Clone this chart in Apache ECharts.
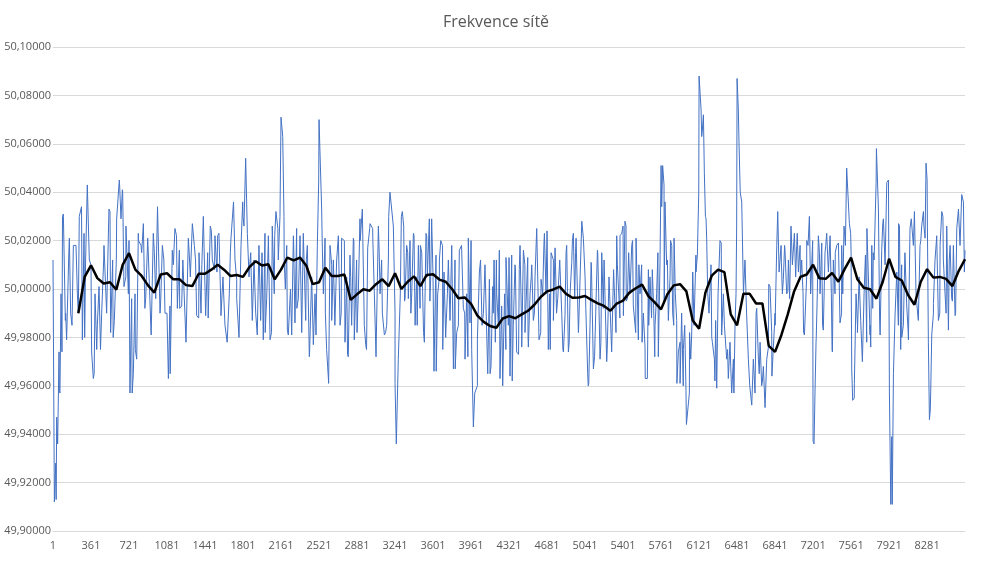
<!DOCTYPE html>
<html>
<head>
<meta charset="utf-8">
<title>Frekvence sítě</title>
<script src="https://cdn.jsdelivr.net/npm/echarts@6/dist/echarts.min.js"></script>
<style>
  html, body { margin: 0; padding: 0; background: #fff; }
  #chart { width: 992px; height: 563px; }
</style>
</head>
<body>
<div id="chart"></div>
<script>
// pocet mereni (kategorie 1..8640), popisky osy X po 360
const N = 8640;
const LABEL_EVERY = 360;

// frekvence, vzorek kazdych 30 mereni
const BLUE_STEP = 30;
const freqValues = [
  50.012, 49.913, 49.958, 50.030, 49.990, 50.015, 49.985, 50.018, 49.990, 50.034, 49.980, 50.043,
  50.010, 49.965, 49.985, 49.975, 50.012, 49.990, 50.032, 49.980, 50.012, 50.044, 50.040, 50.005,
  50.020, 49.957, 49.975, 50.020, 50.015, 49.992, 50.018, 49.981, 50.015, 50.034, 49.995, 50.012,
  49.990, 49.965, 50.010, 50.022, 49.992, 50.012, 49.978, 50.015, 50.027, 50.012, 49.988, 50.010,
  50.030, 49.988, 50.024, 50.008, 50.022, 49.993, 50.005, 49.978, 50.015, 50.036, 50.004, 49.980,
  50.030, 50.054, 50.008, 49.990, 50.012, 49.981, 50.015, 49.982, 50.020, 49.982, 50.022, 50.025,
  50.071, 50.012, 49.983, 50.000, 50.018, 49.992, 50.022, 49.982, 50.012, 49.973, 49.988, 49.985,
  50.070, 50.020, 49.990, 49.962, 50.010, 49.985, 50.020, 49.990, 50.020, 49.973, 50.005, 50.020,
  49.982, 50.020, 50.033, 49.975, 50.025, 50.020, 49.972, 50.015, 49.990, 49.982, 50.030, 50.040,
  49.990, 49.936, 50.030, 49.995, 50.015, 49.990, 50.022, 49.985, 50.018, 49.982, 50.022, 49.995,
  50.029, 49.966, 50.005, 50.018, 49.980, 50.012, 50.018, 49.967, 49.985, 50.018, 49.990, 49.972,
  50.020, 49.943, 49.960, 50.012, 49.990, 50.010, 49.965, 49.990, 50.012, 50.016, 49.960, 49.975,
  50.013, 49.962, 50.009, 49.973, 49.982, 50.010, 49.980, 50.005, 49.990, 50.025, 49.982, 50.018,
  50.024, 49.975, 50.012, 49.990, 50.012, 49.975, 50.015, 49.978, 50.020, 50.015, 49.985, 50.028,
  50.005, 49.960, 50.010, 49.972, 50.015, 49.978, 50.012, 49.975, 50.005, 50.008, 50.022, 49.988,
  50.026, 49.995, 50.015, 50.020, 49.982, 50.010, 49.978, 49.963, 50.008, 49.988, 49.972, 50.015,
  50.051, 49.995, 50.012, 50.020, 49.985, 49.961, 49.978, 49.960, 49.944, 49.982, 50.007, 50.014,
  50.088, 50.065, 50.030, 49.993, 49.980, 49.962, 49.998, 50.019, 49.985, 49.975, 49.968, 49.957,
  50.087, 50.040, 49.999, 49.990, 49.960, 49.952, 49.990, 49.965, 49.962, 49.951, 50.002, 49.964,
  49.990, 50.032, 50.011, 50.018, 49.999, 50.025, 50.010, 50.023, 50.004, 49.982, 50.020, 50.030,
  49.937, 49.980, 50.015, 49.985, 50.018, 50.012, 49.975, 50.015, 50.018, 49.990, 50.022, 50.050,
  50.015, 49.955, 49.985, 50.005, 49.970, 50.025, 49.981, 50.015, 50.058, 49.988, 50.027, 50.010,
  50.045, 49.911, 49.990, 50.027, 49.980, 50.015, 49.983, 50.029, 50.032, 49.990, 50.020, 50.026,
  50.045, 49.950, 49.990, 50.021, 49.990, 50.030, 49.990, 50.012, 49.995, 49.990, 50.033, 50.039,
  50.016
];

// dalsi odectene body frekvence mezi vzorky: [poradi mereni (od 0), hodnota]
const freqExtra = [
  [13,49.912],[25,49.928],[35,49.947],[44,49.936],[57,49.974],[66,49.957],[76,49.998],[85,49.974],[98,50.031],[117,49.987],
  [129,49.979],[155,50.021],[167,49.990],[193,50.018],[218,50.018],[231,49.998],[249,50.030],[278,49.979],[294,50.023],[309,50.012],
  [325,50.043],[344,50.012],[366,49.974],[382,49.963],[398,49.998],[414,49.975],[436,50.001],[461,49.990],[483,50.018],[508,49.990],
  [530,50.033],[546,49.982],[565,50.012],[581,49.987],[603,50.029],[628,50.045],[644,50.029],[657,50.041],[672,50.001],[691,50.026],
  [714,49.998],[729,49.957],[745,49.996],[761,49.965],[777,49.998],[793,49.971],[808,50.023],
  [834,50.018],[856,50.027],[878,49.996],[897,50.021],[928,49.983],[950,50.023],[973,49.996],[992,50.034],[1014,49.990],[1036,50.018],
  [1061,49.990],[1093,49.963],[1108,49.993],[1130,50.016],[1155,50.025],[1178,49.992],[1197,50.016],[1219,49.993],[1241,50.012],[1266,49.978],
  [1282,50.021],[1301,50.005],[1320,50.027],[1339,50.018],[1361,49.989],[1383,50.015],[1402,49.990],[1424,50.030],[1446,49.989],[1465,50.015],
  [1490,50.026],[1509,50.012],[1534,50.022],[1553,50.007],[1572,50.023],[1591,49.989],[1610,50.005],[1629,49.985],[1654,49.978],[1670,49.998],
  [1686,50.021],[1711,50.036],
  [1724,50.012],[1740,49.996],[1762,49.980],[1781,50.018],[1797,50.036],[1809,50.026],[1825,50.054],[1841,50.023],[1857,50.005],[1873,50.015],
  [1888,49.987],[1904,50.012],[1920,49.990],[1935,49.981],[1951,50.018],[1967,49.987],[1992,49.979],[2008,50.023],[2024,49.996],[2040,50.022],
  [2056,49.979],[2077,50.026],[2096,49.998],[2112,50.032],[2134,50.012],[2150,50.030],[2166,50.071],[2176,50.063],[2188,50.030],[2201,50.000],
  [2214,50.018],[2229,49.981],[2245,49.996],[2261,49.981],[2277,50.022],[2292,49.986],[2308,50.025],[2324,49.996],[2340,50.022],[2356,49.982],
  [2371,50.023],[2394,49.987],[2409,50.018],[2428,49.972],[2450,50.005],[2466,49.977],[2482,49.998],[2491,49.981],[2504,50.018],[2517,50.045],
  [2529,50.070],[2545,50.033],[2561,49.998],[2577,50.021],[2592,49.975],[2611,49.961],
  [2624,50.018],[2640,49.987],[2656,50.012],[2671,49.985],[2687,50.012],[2703,50.022],[2719,49.985],[2734,50.021],[2750,50.021],[2766,49.978],
  [2782,50.005],[2797,49.972],[2813,50.014],[2829,49.985],[2845,50.021],[2854,49.979],[2876,50.012],[2892,49.998],[2908,50.029],[2930,50.033],
  [2949,49.985],[2962,49.977],[2981,50.017],[3003,50.027],[3028,50.025],[3044,49.998],[3060,49.973],[3082,50.026],[3098,49.998],[3113,50.012],
  [3139,49.981],[3161,49.985],[3177,50.012],[3192,50.040],[3208,50.040],[3224,50.026],[3240,49.961],[3252,49.936],[3271,49.971],[3290,49.998],
  [3309,50.032],[3322,50.026],[3335,49.996],[3350,50.018],[3366,49.996],[3382,50.020],[3398,49.998],[3414,50.023],[3430,49.985],[3445,50.005],
  [3461,50.018],[3477,49.992],[3493,50.015],[3518,49.978],
  [3533,50.023],[3546,50.005],[3565,50.029],[3578,50.005],[3587,50.029],[3600,50.005],[3609,49.966],[3628,50.014],[3644,49.998],[3660,50.012],
  [3673,50.020],[3692,49.975],[3704,50.007],[3720,49.981],[3736,49.998],[3745,50.012],[3761,49.987],[3777,50.018],[3793,49.967],[3808,50.012],
  [3824,49.982],[3849,50.016],[3871,50.018],[3887,49.992],[3903,49.971],[3919,49.998],[3934,50.021],[3950,49.986],[3966,49.975],[3982,49.943],
  [3995,49.957],[4020,49.979],[4039,50.007],[4051,50.010],[4064,49.985],[4077,49.990],[4092,50.010],[4108,50.010],[4118,49.965],[4134,50.004],
  [4149,49.968],[4165,50.001],[4178,50.012],[4190,49.978],[4203,49.998],[4219,49.985],[4228,50.016],[4234,49.963],[4250,49.993],[4266,49.974],
  [4278,49.998],[4291,50.013],[4313,49.985],[4329,49.964],[4345,50.014],[4360,49.985],[4376,50.010],[4392,49.974],[4417,50.008],
  [4424,50.018],[4440,49.976],[4456,50.016],[4471,49.982],[4497,50.013],[4503,49.976],[4519,49.998],[4535,50.010],[4550,49.987],[4566,50.005],
  [4582,50.025],[4591,50.025],[4604,49.979],[4623,50.004],[4639,49.998],[4655,50.023],[4670,49.998],[4683,50.024],[4692,49.975],[4705,49.998],
  [4718,50.015],[4740,49.987],[4756,50.017],[4781,49.996],[4803,50.012],[4819,49.990],[4835,49.974],[4850,49.989],[4866,50.018],[4882,49.974],
  [4898,49.998],[4914,50.011],[4929,50.023],[4942,49.996],[4955,50.021],[4977,49.982],[4993,50.005],[5009,50.028],[5024,50.021],[5047,49.992],
  [5065,49.965],[5075,49.961],[5087,49.985],[5097,50.011],[5119,49.967],[5141,49.990],[5157,50.016],[5169,49.998],[5182,49.971],[5198,50.015],
  [5213,49.992],[5229,50.012],[5245,49.970],[5267,50.005],[5292,49.974],[5317,50.000],
  [5333,49.982],[5346,50.010],[5371,50.022],[5387,50.023],[5403,49.989],[5418,50.028],[5428,50.026],[5441,49.996],[5453,50.015],[5466,49.998],
  [5482,50.018],[5497,49.993],[5523,50.021],[5545,49.979],[5561,49.998],[5576,50.010],[5592,49.990],[5608,49.976],[5630,49.963],[5643,49.985],
  [5655,50.005],[5677,50.008],[5690,49.992],[5703,49.985],[5718,49.998],[5734,49.972],[5750,50.011],[5766,50.034],[5775,50.051],[5788,50.043],
  [5797,50.036],[5813,50.010],[5829,49.987],[5845,50.005],[5861,50.018],[5870,49.990],[5883,50.021],[5895,49.998],[5908,49.987],[5924,49.974],
  [5940,49.961],[5955,49.990],[5971,49.975],[5984,49.985],[5996,49.958],[6012,49.944],[6028,49.957],[6041,49.971],[6050,49.981],[6072,49.985],
  [6091,50.007],[6104,50.014],[6117,50.040],[6129,50.088],[6139,50.074],[6145,50.063],[6161,50.072],[6170,50.048],[6186,50.029],
  [6192,50.021],[6202,49.998],[6214,49.990],[6233,50.010],[6246,49.978],[6265,49.971],[6277,49.987],[6287,49.959],[6303,49.998],[6318,50.020],
  [6334,49.981],[6350,49.998],[6366,49.981],[6382,49.971],[6397,49.963],[6413,49.978],[6429,49.957],[6445,49.971],[6461,49.986],[6470,49.998],
  [6476,50.026],[6486,50.087],[6492,50.074],[6498,50.061],[6508,50.043],[6524,50.036],[6540,49.998],[6555,50.012],[6571,49.990],[6587,49.971],
  [6603,49.960],[6619,49.952],[6634,49.971],[6650,49.957],[6666,49.992],[6682,49.971],[6698,49.978],[6713,49.960],[6729,49.968],[6745,49.951],
  [6761,49.971],[6777,49.976],[6792,50.001],[6808,49.982],[6824,49.964],[6840,49.985],[6856,50.018],[6865,50.032],[6878,50.007],[6897,50.018],
  [6909,49.998],[6918,50.004],[6934,50.016],[6950,49.998],[6966,50.012],[6978,49.996],[6991,50.026],[7004,50.010],[7023,50.023],[7035,50.005],
  [7045,50.018],[7061,50.007],[7077,50.018],[7092,50.012],[7105,49.998],[7118,49.981],
  [7139,50.005],[7152,50.018],[7165,50.030],[7177,49.998],[7196,50.020],[7209,49.936],[7218,49.957],[7228,49.978],[7240,49.998],[7250,50.022],
  [7266,49.998],[7282,50.019],[7297,49.983],[7313,50.015],[7329,50.023],[7345,50.007],[7361,50.022],[7373,49.998],[7383,49.974],[7392,50.012],
  [7408,49.998],[7424,50.018],[7440,50.019],[7455,49.986],[7471,50.018],[7481,49.998],[7493,50.026],[7506,50.018],[7518,50.050],[7528,50.050],
  [7544,50.027],[7556,50.023],[7566,49.967],[7575,49.954],[7591,49.961],[7607,49.998],[7620,49.982],[7636,50.005],[7651,49.987],[7667,49.970],
  [7683,49.998],[7696,50.014],[7708,49.978],[7724,50.025],[7740,49.985],[7746,49.976],[7756,50.018],[7765,49.992],[7778,50.012],[7797,50.044],
  [7803,50.058],[7819,50.033],[7835,49.981],[7850,50.016],[7866,50.029],[7882,50.010],[7898,50.044],[7914,50.045],[7923,49.957],[7936,49.911],
  [7945,49.939],[7961,49.965],[7977,49.990],[7993,50.007],[8008,49.985],[8018,50.026],
  [8030,49.975],[8039,50.010],[8055,49.985],[8071,50.015],[8087,49.993],[8103,49.979],[8118,50.025],[8134,50.029],[8150,50.018],[8160,50.032],
  [8175,49.998],[8197,49.987],[8213,50.018],[8229,50.026],[8245,50.032],[8261,50.021],[8270,50.052],[8283,50.026],[8292,49.978],[8302,49.946],
  [8314,49.957],[8324,49.981],[8340,49.994],[8355,50.012],[8371,50.022],[8387,49.987],[8403,50.018],[8419,50.032],[8434,50.012],[8450,49.998],
  [8466,50.026],[8482,49.983],[8498,50.018],[8513,49.996],[8529,50.018],[8545,49.989],[8561,50.025],[8577,50.033],[8592,50.018],[8608,50.039],
  [8624,50.036],[8633,50.007]
];

// klouzavy prumer (cerna) - od mereni 241, kazdych 60
const MA_START = 240;
const MA_STEP = 60;
const maValues = [
  49.9900, 50.0050, 50.0098, 50.0045, 50.0023, 50.0028, 49.9997, 50.0100, 50.0148, 50.0080,
  50.0054, 50.0015, 49.9985, 50.0060, 50.0065, 50.0040, 50.0040, 50.0016, 50.0012, 50.0063,
  50.0063, 50.0080, 50.0100, 50.0080, 50.0054, 50.0058, 50.0050, 50.0090, 50.0115, 50.0097,
  50.0102, 50.0040, 50.0080, 50.0130, 50.0118, 50.0130, 50.0096, 50.0020, 50.0028, 50.0088,
  50.0054, 50.0054, 50.0060, 49.9955, 49.9978, 49.9999, 49.9993, 50.0020, 50.0040, 50.0012,
  50.0065, 50.0000, 50.0030, 50.0052, 50.0012, 50.0058, 50.0061, 50.0039, 50.0030, 50.0000,
  49.9962, 49.9965, 49.9939, 49.9890, 49.9864, 49.9847, 49.9840, 49.9878, 49.9888, 49.9879,
  49.9895, 49.9910, 49.9935, 49.9967, 49.9990, 49.9998, 50.0010, 49.9980, 49.9964, 49.9965,
  49.9971, 49.9955, 49.9941, 49.9930, 49.9910, 49.9940, 49.9952, 49.9985, 50.0003, 50.0018,
  49.9971, 49.9945, 49.9916, 49.9978, 50.0015, 50.0020, 49.9990, 49.9870, 49.9836, 49.9985,
  50.0055, 50.0080, 50.0070, 49.9895, 49.9850, 49.9980, 49.9980, 49.9940, 49.9940, 49.9765,
  49.9740, 49.9810, 49.9895, 49.9990, 50.0050, 50.0060, 50.0100, 50.0044, 50.0042, 50.0066,
  50.0030, 50.0083, 50.0130, 50.0040, 50.0005, 49.9999, 49.9960, 50.0030, 50.0125, 50.0050,
  50.0035, 49.9975, 49.9935, 50.0030, 50.0082, 50.0047, 50.0050, 50.0042, 50.0012, 50.0075,
  50.0123
];

// osa Y
const Y_MIN = 49.90, Y_MAX = 50.10, Y_STEP = 0.02;

const categories = [];
for (let i = 1; i <= N; i++) categories.push(String(i));

const freqData = freqValues
  .map((v, k) => [Math.min(k * BLUE_STEP, N - 1), v])
  .concat(freqExtra)
  .sort((a, b) => a[0] - b[0]);
const maData = maValues.map((v, k) => [Math.min(MA_START + k * MA_STEP, N - 1), v]);

const chart = echarts.init(document.getElementById('chart'));
const option = {
  animation: false,
  backgroundColor: '#ffffff',
  title: {
    text: 'Frekvence sítě',
    left: 'center',
    top: 9,
    textStyle: {
      color: '#595959',
      fontFamily: 'Open Sans',
      fontWeight: 'normal',
      fontSize: 16
    }
  },
  grid: { left: 53, right: 27, top: 47, bottom: 32 },
  xAxis: {
    type: 'category',
    data: categories,
    boundaryGap: false,
    axisLine: { lineStyle: { color: '#d9d9d9' } },
    axisTick: { show: false },
    splitLine: { show: false },
    axisLabel: {
      interval: LABEL_EVERY - 1,
      color: '#595959',
      fontFamily: 'Open Sans',
      fontSize: 11,
      margin: 9
    }
  },
  yAxis: {
    type: 'value',
    min: Y_MIN,
    max: Y_MAX,
    interval: Y_STEP,
    axisLine: { show: false },
    axisTick: { show: false },
    splitLine: { lineStyle: { color: '#d9d9d9' } },
    axisLabel: {
      color: '#595959',
      fontFamily: 'Open Sans',
      fontSize: 11,
      margin: 2,
      formatter: v => v.toFixed(5).replace('.', ',')
    }
  },
  series: [
    {
      name: 'Frekvence',
      type: 'line',
      data: freqData,
      showSymbol: false,
      lineStyle: { color: '#4472c4', width: 1 },
      itemStyle: { color: '#4472c4' },
      z: 2
    },
    {
      name: 'Klouzavý průměr',
      type: 'line',
      data: maData,
      showSymbol: false,
      lineStyle: { color: '#000000', width: 2.5 },
      itemStyle: { color: '#000000' },
      z: 3
    }
  ]
};
chart.setOption(option);
</script>
</body>
</html>
